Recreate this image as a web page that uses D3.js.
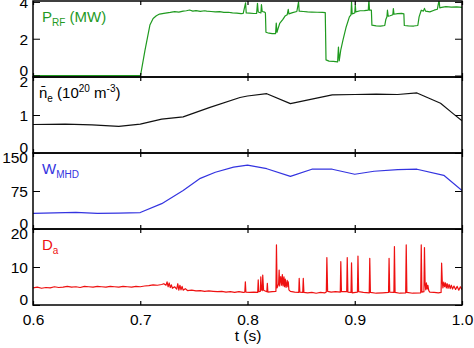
<!DOCTYPE html>
<html>
<head>
<meta charset="utf-8">
<script src="https://cdn.jsdelivr.net/npm/d3@7"></script>
<style>
  html, body { margin: 0; padding: 0; background: #fff; }
  svg { display: block; }
  text { font-family: "Liberation Sans", Arial, Helvetica, sans-serif; }
</style>
</head>
<body>
<svg id="chart" width="474" height="348"></svg>
<script>
// ---------------- DATA ----------------
const xTicks = [0.6, 0.7, 0.8, 0.9, 1.0];
const xTickLabels = ["0.6", "0.7", "0.8", "0.9", "1.0"];
const xTitle = "t (s)";

const yTicksP = [0, 2, 4];
const yTicksN = [0, 1, 2];
const yTicksW = [0, 75, 150];
const yTicksD = [0, 10, 20];

// P_RF (MW)
const pRF = [
 [0.600,0],[0.700,0],[0.7004,0.05],[0.7044,1.37],[0.709,2.74],[0.712,3.10],[0.715,3.25],[0.718,3.34],
 [0.722,3.38],[0.728,3.43],[0.732,3.47],[0.736,3.45],[0.740,3.50],[0.743,3.52],[0.746,3.56],[0.749,3.50],
 [0.752,3.53],[0.756,3.49],[0.760,3.52],[0.762,3.50],[0.766,3.48],[0.770,3.46],[0.774,3.47],[0.778,3.43],
 [0.782,3.44],[0.786,3.40],[0.790,3.39],[0.794,3.36],[0.796,3.38],[0.7982,3.95],[0.7988,3.40],[0.802,3.39],
 [0.806,3.37],[0.8085,3.38],[0.8093,3.92],[0.8100,3.45],[0.8125,3.40],[0.8130,3.85],[0.8137,3.48],[0.8160,3.45],
 [0.8167,3.40],[0.8172,2.35],[0.8200,2.30],[0.8230,2.28],[0.8262,2.28],[0.8268,2.85],[0.8275,2.35],[0.8285,2.55],
 [0.8300,2.83],[0.8330,3.05],[0.8350,3.23],[0.8370,3.30],[0.8380,3.60],[0.8386,3.35],[0.8420,3.42],[0.8460,3.48],
 [0.8476,4.00],[0.8482,3.50],[0.8520,3.48],[0.8560,3.46],[0.8600,3.45],[0.8650,3.44],[0.8700,3.43],[0.8725,3.42],
 [0.8732,0.85],[0.8760,0.78],[0.8800,0.77],[0.8840,0.74],[0.8848,1.55],[0.8855,0.80],[0.8870,1.40],[0.8890,1.92],
 [0.8920,2.64],[0.8950,3.19],[0.8965,3.30],[0.8970,4.00],[0.8976,3.35],[0.9000,3.40],[0.9005,3.83],[0.9010,3.46],
 [0.9050,3.52],[0.9090,3.53],[0.9126,3.55],[0.9132,4.10],[0.9138,3.55],[0.9155,3.55],[0.9160,2.74],[0.9200,2.70],
 [0.9240,2.68],[0.9280,2.72],[0.9290,3.05],[0.9300,3.19],[0.9305,3.55],[0.9312,3.22],[0.9330,3.25],[0.9355,3.30],
 [0.9360,3.64],[0.9366,3.33],[0.9400,3.36],[0.9437,3.38],[0.9458,3.35],[0.9462,2.72],[0.9500,2.70],[0.9550,2.69],
 [0.9588,2.72],[0.9600,3.19],[0.9620,3.55],[0.9640,3.50],[0.9650,3.65],[0.9660,3.50],[0.9700,3.46],[0.9740,3.55],
 [0.9770,3.60],[0.9786,4.10],[0.9793,3.68],[0.9810,3.70],[0.9850,3.74],[0.9900,3.72],[0.9950,3.73],[1.000,3.70]
];

// line-averaged density (1e20 m^-3)
const nE = [
 [0.600,0.75],[0.630,0.76],[0.655,0.74],[0.680,0.70],[0.700,0.76],[0.720,0.89],[0.740,0.95],[0.765,1.20],
 [0.793,1.46],[0.800,1.50],[0.818,1.56],[0.840,1.30],[0.860,1.42],[0.879,1.53],[0.900,1.54],[0.920,1.55],
 [0.940,1.54],[0.958,1.58],[0.980,1.31],[0.992,1.03],[1.000,0.85]
];

// W_MHD (kJ)
const wMHD = [
 [0.600,31],[0.620,32],[0.640,33],[0.660,31],[0.680,31.5],[0.700,32.5],[0.720,50],[0.740,76],[0.756,100],
 [0.770,112],[0.787,122],[0.800,126],[0.818,119],[0.840,104],[0.860,118],[0.879,118],[0.900,108],[0.918,114],
 [0.940,117],[0.958,118],[0.983,106],[1.000,76]
];

// D_alpha (a.u.)
const dA = [
 [0.600,4.5],[0.604,4.7],[0.608,4.4],[0.612,4.6],[0.616,4.5],[0.620,4.8],[0.624,4.6],[0.628,4.7],[0.632,4.9],
 [0.636,4.7],[0.640,4.8],[0.644,4.6],[0.648,4.9],[0.652,4.8],[0.656,4.7],[0.660,4.9],[0.664,4.8],[0.668,4.7],
 [0.672,4.9],[0.676,4.8],[0.680,4.7],[0.684,4.9],[0.688,4.8],[0.692,4.7],[0.696,4.9],[0.700,4.8],[0.704,5.0],
 [0.708,5.1],[0.712,5.3],[0.716,5.2],[0.720,5.4],[0.722,5.6],[0.724,5.2],[0.725,6.1],[0.726,4.8],[0.727,5.8],
 [0.728,4.6],[0.729,5.3],[0.730,4.4],[0.732,4.8],[0.734,4.2],[0.735,5.6],[0.736,3.9],[0.737,5.2],[0.738,4.0],
 [0.739,4.9],[0.740,3.9],[0.742,4.3],[0.744,3.8],[0.748,3.9],[0.752,3.7],[0.756,3.8],[0.760,3.6],[0.764,3.7],
 [0.768,3.6],[0.772,3.5],[0.776,3.6],[0.780,3.4],[0.784,3.5],[0.788,3.3],[0.792,3.5],[0.796,3.3],[0.7975,3.4],
 [0.798,6.1],[0.7985,3.4],[0.802,3.3],[0.806,3.4],[0.8095,3.3],[0.810,6.6],[0.8105,3.5],[0.8120,3.6],[0.8124,7.4],
 [0.8130,4.0],[0.8138,3.8],[0.8142,7.9],[0.8150,3.9],[0.8180,3.5],[0.8185,5.7],[0.8190,3.4],[0.8230,3.5],
 [0.8265,3.6],[0.8270,15.8],[0.8276,4.5],[0.8290,5.5],[0.8295,9.2],[0.8300,5.0],[0.8310,7.5],[0.8318,5.2],
 [0.8325,8.0],[0.8332,5.0],[0.8340,7.4],[0.8346,4.8],[0.8352,6.8],[0.8360,4.6],[0.8370,6.5],[0.8376,4.8],
 [0.8380,6.1],[0.8386,4.0],[0.8400,3.6],[0.8440,3.4],[0.8478,3.3],[0.8482,7.0],[0.8488,3.4],[0.8515,3.3],
 [0.8520,7.0],[0.8526,3.3],[0.8560,3.2],[0.8600,3.3],[0.8640,3.1],[0.8680,3.3],[0.8720,3.2],[0.8735,3.4],
 [0.8740,12.5],[0.8747,3.6],[0.8780,3.4],[0.8820,3.5],[0.8865,3.4],[0.8870,11.4],[0.8876,3.5],[0.8925,3.5],
 [0.8930,12.5],[0.8936,3.4],[0.8965,3.3],[0.8970,11.1],[0.8976,3.2],[0.9025,3.4],[0.9030,12.9],[0.9036,3.5],
 [0.9080,3.3],[0.9135,3.2],[0.9140,12.3],[0.9146,3.3],[0.9200,3.1],[0.9260,3.2],[0.9315,3.3],[0.9320,12.3],
 [0.9326,3.4],[0.9365,3.3],[0.9370,15.4],[0.9376,3.3],[0.9420,3.1],[0.9475,3.2],[0.9480,15.8],[0.9486,3.3],
 [0.9540,3.1],[0.9615,3.2],[0.9620,15.8],[0.9626,3.4],[0.9645,3.5],[0.9650,15.1],[0.9656,5.5],[0.9662,4.0],
 [0.9668,5.8],[0.9675,4.2],[0.9682,5.2],[0.9690,3.8],[0.9700,3.4],[0.9740,3.3],[0.9780,3.2],[0.9805,3.3],
 [0.9810,11.0],[0.9816,6.2],[0.9822,4.5],[0.9830,6.0],[0.9838,4.8],[0.9846,5.8],[0.9854,4.5],[0.9862,5.6],
 [0.9870,4.4],[0.9880,5.4],[0.9890,4.3],[0.9900,5.2],[0.9912,4.2],[0.9925,5.0],[0.9940,4.1],[0.9955,4.9],
 [0.9970,3.9],[0.9985,4.8],[1.0000,4.0]
];

// ---------------- LAYOUT ----------------
const svg = d3.select("#chart");
const X0 = 33, X1 = 462, PH = 76, TOP = 1;
const FS = 15.5;
const x = d3.scaleLinear().domain([0.6, 1.0]).range([X0, X1]);

const panels = [
  { data: pRF,  domain: [-0.08, 4.05], ticks: yTicksP, color: "#1f9a1f", shiftTop: false,
    label: [["P", 15, 0], ["RF", 10, 4], [" (MW)", 15, -4]] },
  { data: nE,   domain: [0, 2],        ticks: yTicksN, color: "#111111", shiftTop: true,
    label: [["n\u0304", 15, 0], ["e", 10, 4], [" (10", 15, -4], ["20", 10, -6], [" m", 15, 6], ["-3", 10, -6], [")", 15, 6]] },
  { data: wMHD, domain: [0, 150],      ticks: yTicksW, color: "#3434e0", shiftTop: true,
    label: [["W", 15, 0], ["MHD", 10, 4]] },
  { data: dA,   domain: [0, 20],       ticks: yTicksD, color: "#ee1111", shiftTop: true,
    label: [["D", 15, 0], ["a", 10, 4]] }
];

const defs = svg.append("defs");

panels.forEach((p, i) => {
  const y0 = TOP + i * PH, y1 = y0 + PH;
  const y = d3.scaleLinear().domain(p.domain).range([y1, y0]);
  const g = svg.append("g");

  defs.append("clipPath").attr("id", "clip" + i)
    .append("rect").attr("x", X0).attr("y", y0).attr("width", X1 - X0).attr("height", PH);

  // data line
  g.append("path")
    .datum(p.data)
    .attr("clip-path", "url(#clip" + i + ")")
    .attr("fill", "none")
    .attr("stroke", p.color)
    .attr("stroke-width", 1.2)
    .attr("stroke-linejoin", "round")
    .attr("d", d3.line().x(d => x(d[0])).y(d => y(d[1])));

  // left axis
  const ax = g.append("g").attr("transform", `translate(${X0},0)`)
    .call(d3.axisLeft(y).tickValues(p.ticks).tickSizeInner(-7).tickSizeOuter(0).tickPadding(5)
      .tickFormat(d3.format("d")));
  ax.select(".domain").remove();
  ax.selectAll(".tick line").attr("stroke", "#000").attr("stroke-width", 1);
  ax.selectAll(".tick text")
    .attr("font-size", FS).attr("fill", "#000")
    .style("font-family", "'Liberation Sans', Arial, Helvetica, sans-serif")
    .attr("dy", "0.34em")
    .attr("transform", (d) => {
      if (d === p.ticks[0]) return "translate(0,-5.5)";
      if (d === p.ticks[p.ticks.length - 1] && p.shiftTop) return "translate(0,4.5)";
      return null;
    });

  // right axis
  const ar = g.append("g").attr("transform", `translate(${X1},0)`)
    .call(d3.axisRight(y).tickValues(p.ticks).tickSizeInner(-7).tickSizeOuter(0).tickFormat(""));
  ar.select(".domain").remove();
  ar.selectAll(".tick line").attr("stroke", "#000").attr("stroke-width", 1);

  // top & bottom x ticks
  const at = g.append("g").attr("transform", `translate(0,${y0})`)
    .call(d3.axisTop(x).tickValues(xTicks).tickSizeInner(-4).tickSizeOuter(0).tickFormat(""));
  at.select(".domain").remove();
  at.selectAll(".tick line").attr("stroke", "#000").attr("stroke-width", 1.2);
  const ab = g.append("g").attr("transform", `translate(0,${y1})`)
    .call(d3.axisBottom(x).tickValues(xTicks).tickSizeInner(-4).tickSizeOuter(0).tickPadding(9)
      .tickFormat((d, k) => i === panels.length - 1 ? xTickLabels[k] : ""));
  ab.select(".domain").remove();
  ab.selectAll(".tick line").attr("stroke", "#000").attr("stroke-width", 1.2);
  ab.selectAll(".tick text").attr("font-size", FS).attr("fill", "#000")
    .style("font-family", "'Liberation Sans', Arial, Helvetica, sans-serif");

  // frame
  g.append("rect").attr("x", X0).attr("y", y0).attr("width", X1 - X0).attr("height", PH)
    .attr("fill", "none").attr("stroke", "#000").attr("stroke-width", 1.5);

  // panel label
  const lt = g.append("text")
    .attr("x", i === 1 ? 39 : 42)
    .attr("y", y0 + 21)
    .attr("fill", p.color === "#111111" ? "#000" : p.color);
  p.label.forEach(([s, fs, dy]) => {
    lt.append("tspan").attr("font-size", fs).attr("dy", dy).text(s);
  });
});

// x-axis title
svg.append("text")
  .attr("x", 248).attr("y", 341)
  .attr("text-anchor", "middle")
  .attr("font-size", FS)
  .attr("fill", "#000")
  .text(xTitle);
</script>
</body>
</html>
